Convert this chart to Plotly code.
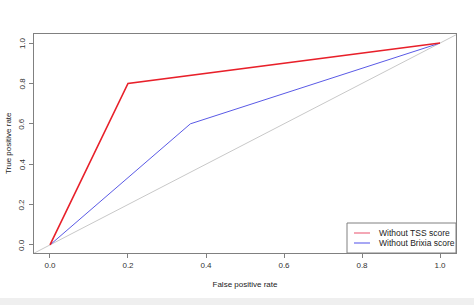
import plotly.graph_objects as go

tss_fpr = [0.0, 0.2, 1.0]
tss_tpr = [0.0, 0.8, 1.0]
brixia_fpr = [0.0, 0.36, 1.0]
brixia_tpr = [0.0, 0.6, 1.0]
diag = [-0.05, 1.05]
ticks = [0.0, 0.2, 0.4, 0.6, 0.8, 1.0]
tick_text = ["0.0", "0.2", "0.4", "0.6", "0.8", "1.0"]
legend_names = ["Without TSS score", "Without Brixia score"]
legend_colors = ["#f08a9c", "#8a8af0"]

W, H = 474, 305
L, R, T, B = 34, 18, 34, 52
pw, ph = W - L - R, H - T - B

def px_x(p):
    return (p - L) / pw

def px_y(p):
    return (H - B - p) / ph

fig = go.Figure()
fig.add_trace(go.Scatter(x=diag, y=diag, mode="lines",
                         line=dict(color="#c8c8c8", width=1), showlegend=False, hoverinfo="skip"))
fig.add_trace(go.Scatter(x=brixia_fpr, y=brixia_tpr, mode="lines", name=legend_names[1],
                         line=dict(color="#5a5ae6", width=1), showlegend=False))
fig.add_trace(go.Scatter(x=tss_fpr, y=tss_tpr, mode="lines", name=legend_names[0],
                         line=dict(color="#e8202a", width=1.6), showlegend=False))

# bottom grey band
fig.add_shape(type="rect", xref="paper", yref="paper", x0=-0.1, x1=1.1, y0=px_y(306), y1=px_y(298),
              fillcolor="#efefef", line=dict(width=0), layer="below")

# legend box
fig.add_shape(type="rect", xref="paper", yref="paper", x0=px_x(347), x1=1, y0=0, y1=px_y(223),
              fillcolor="white", line=dict(color="#808080", width=1))
for i, (name, col) in enumerate(zip(legend_names, legend_colors)):
    yy = 233 + 10 * i
    fig.add_shape(type="line", xref="paper", yref="paper", x0=px_x(354), x1=px_x(370),
                  y0=px_y(yy), y1=px_y(yy), line=dict(color=col, width=1.5))
    fig.add_annotation(xref="paper", yref="paper", x=px_x(377), y=px_y(yy), text=name,
                       showarrow=False, xanchor="left", yanchor="middle",
                       font=dict(family="Liberation Sans, Arial", size=8.5, color="#222222"))

# y-axis tick labels (rotated, R style)
for v, t in zip(ticks, tick_text):
    fig.add_annotation(xref="paper", yref="y", x=px_x(22), y=v, text=t, textangle=-90,
                       showarrow=False, xanchor="center", yanchor="middle",
                       font=dict(family="Liberation Sans, Arial", size=8, color="#333333"))

# y-axis title
fig.add_annotation(xref="paper", yref="paper", x=px_x(8), y=px_y(143), text="True positive rate",
                   textangle=-90, showarrow=False, xanchor="center", yanchor="middle",
                   font=dict(family="Liberation Sans, Arial", size=8, color="#222222"))

axis_common = dict(showgrid=False, zeroline=False, showline=True, linecolor="#808080", linewidth=1,
                   mirror=True, ticks="outside", ticklen=4, tickcolor="#808080", automargin=False,
                   tickfont=dict(family="Liberation Sans, Arial", size=8, color="#333333"),
                   tickvals=ticks, ticktext=tick_text)

fig.update_layout(
    width=W, height=H,
    margin=dict(l=L, r=R, t=T, b=B),
    paper_bgcolor="white", plot_bgcolor="white",
    xaxis=dict(range=[-0.041, 1.041], title=dict(text="False positive rate", standoff=12,
               font=dict(family="Liberation Sans, Arial", size=8, color="#222222")), **axis_common),
    yaxis=dict(range=[-0.04, 1.045], showticklabels=False, **axis_common),
    showlegend=False,
)

fig.write_html("out.html")
